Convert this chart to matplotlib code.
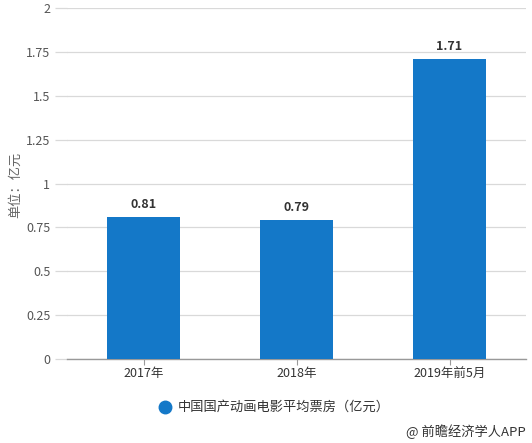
import matplotlib
matplotlib.use("Agg")
import matplotlib.pyplot as plt
from matplotlib.lines import Line2D

plt.rcParams['font.family'] = ['Noto Sans CJK SC', 'DejaVu Sans']

categories = ["2017年", "2018年", "2019年前5月"]
values = [0.81, 0.79, 1.71]
yticks = [0, 0.25, 0.5, 0.75, 1, 1.25, 1.5, 1.75, 2]
ytick_labels = ["0", "0.25", "0.5", "0.75", "1", "1.25", "1.5", "1.75", "2"]
series_name = "中国国产动画电影平均票房（亿元）"

W, H = 532, 443
fig = plt.figure(figsize=(W / 100, H / 100), dpi=100)
ax = fig.add_axes([67 / W, 1 - 359 / H, (526 - 67) / W, (359 - 8) / H])

bar_color = "#1478c8"
x = list(range(len(categories)))
ax.bar(x, values, width=0.477, color=bar_color, zorder=3)
for xi, v in zip(x, values):
    ax.text(xi, v + 0.035, f"{v:.2f}", ha="center", va="bottom",
            fontsize=9, fontweight="bold", color="#333333", zorder=4)

ax.set_xlim(-0.5, 2.5)
ax.set_ylim(0, 2)
ax.set_yticks(yticks)
ax.set_yticklabels(ytick_labels)
ax.set_xticks(x)
ax.set_xticklabels(categories)

ax.grid(axis="y", color="#d9d9d9", linewidth=0.9, zorder=0)
for s in ["top", "right", "left"]:
    ax.spines[s].set_visible(False)
ax.spines["bottom"].set_color("#999999")
ax.spines["bottom"].set_linewidth(1.0)

ax.tick_params(axis="y", length=9, color="#d9d9d9", width=0.9, labelsize=9,
               labelcolor="#555555", pad=3)
ax.tick_params(axis="x", length=4, color="#999999", labelsize=9,
               labelcolor="#333333", pad=2)

fig.text(16 / W, 1 - 185 / H, "单位：亿元", rotation=90, ha="center", va="center",
         fontsize=9.5, color="#666666")

# legend
fig.add_artist(Line2D([165 / W], [1 - 407 / H], marker="o", markersize=9,
                      color=bar_color, linestyle="none", transform=fig.transFigure))
fig.text(178 / W, 1 - 407 / H, series_name, ha="left", va="center",
         fontsize=9.5, color="#333333")

fig.text(526 / W, 1 - 432 / H, "@ 前瞻经济学人APP", ha="right", va="center",
         fontsize=9.5, color="#333333")

fig.savefig("out.png", dpi=100)
